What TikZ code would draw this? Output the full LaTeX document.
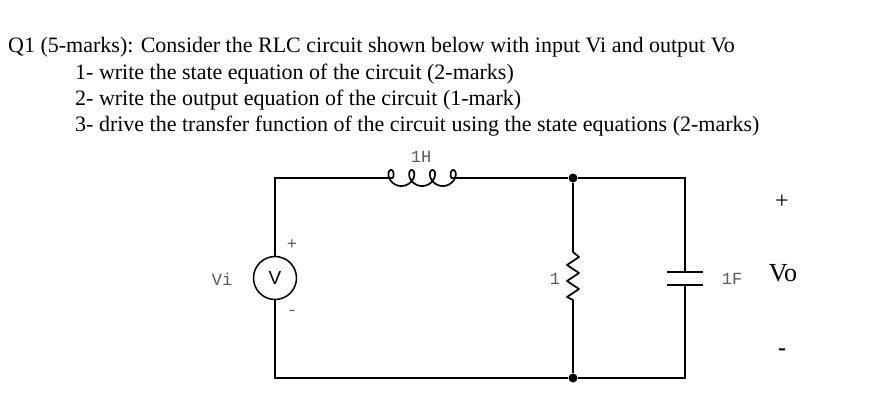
\documentclass[tikz,border=0pt]{standalone}
\usepackage{fontspec}
\setmainfont{Liberation Serif}
\newfontfamily\cmono{Liberation Mono}
\newfontfamily\csans{Liberation Sans}
\begin{document}
\begin{tikzpicture}[x=1pt,y=-1pt,
  wire/.style={line width=1.7pt},
  txt/.style={anchor=base west,inner sep=0pt,font=\fontsize{22}{24}\selectfont},
  lab/.style={inner sep=0pt,text=black!65,font=\cmono\fontsize{17}{19}\selectfont},
  dot/.style={circle,fill=black,inner sep=0pt,minimum size=9pt}]
\useasboundingbox (0,0) rectangle (895,416);
\node[txt] (t1) at (8,52) {Q1 (5-marks): Consider the RLC circuit shown below with input Vi and output Vo};
\node[txt] (t2) at (75,79) {1- write the state equation of the circuit (2-marks)};
\node[txt] (t3) at (75,105) {2- write the output equation of the circuit (1-mark)};
\node[txt] (t4) at (75,131) {3- drive the transfer function of the circuit using the state equations (2-marks)};
% coordinates
\coordinate (tl) at (275,178);
\coordinate (bl) at (275,378);
\coordinate (tr) at (685,178);
\coordinate (br) at (685,378);
\node[dot] (nt) at (573,178) {};
\node[dot] (nb) at (573,378) {};
\node[circle,draw,line width=1.5pt,minimum size=43pt,inner sep=0pt,font=\csans\fontsize{19}{21}\selectfont] (src) at (275,278) {V};
\coordinate (la) at (393,178);
\coordinate (lb) at (451,178);
\coordinate (ra) at (573,250);
\coordinate (rb) at (573,302);
\coordinate (ca) at (685,272);
\coordinate (cb) at (685,285);
% wires
\draw[wire] (src.north) -- (tl) -- (la);
\draw[wire] (src.south) -- (bl) -- (nb) -- (br) -- (cb);
\draw[wire] (lb) -- (nt) -- (tr) -- (ca);
\draw[wire] (nt) -- (ra);
\draw[wire] (rb) -- (nb);
% inductor
\draw[wire,smooth] plot[domain=-1.5708:20.42,samples=120,variable=\t]
  ({391+3.3*\t-7*sin(\t r)},{178-8*cos(\t r)});
% resistor
\draw[wire,line join=round] (ra) -- ++(0,2) -- ++(6,5) -- ++(-12,8) -- ++(12,8) -- ++(-12,8) -- ++(12,8) -- ++(-12,8) -- ++(6,3) -- (rb);
% capacitor
\draw[wire] (667,272) -- (703,272);
\draw[wire] (667,285) -- (703,285);
% labels
\node[lab] (lL) at (421,157) {1H};
\node[lab] (lR) at (555,279) {1};
\node[lab] (lC) at (732,279) {1F};
\node[lab] (lV) at (222,279) {Vi};
\node[lab] (lp) at (292,245) {+};
\node[lab] (lm) at (292,313) {-};
\node[inner sep=0pt,font=\fontsize{24}{26}\selectfont] (op) at (782,202) {+};
\node[inner sep=0pt,font=\fontsize{26}{28}\selectfont] (vo) at (783,273) {Vo};
\node[inner sep=0pt,font=\fontsize{24}{26}\selectfont\bfseries] (om) at (782,352) {-};
\end{tikzpicture}
\end{document}
